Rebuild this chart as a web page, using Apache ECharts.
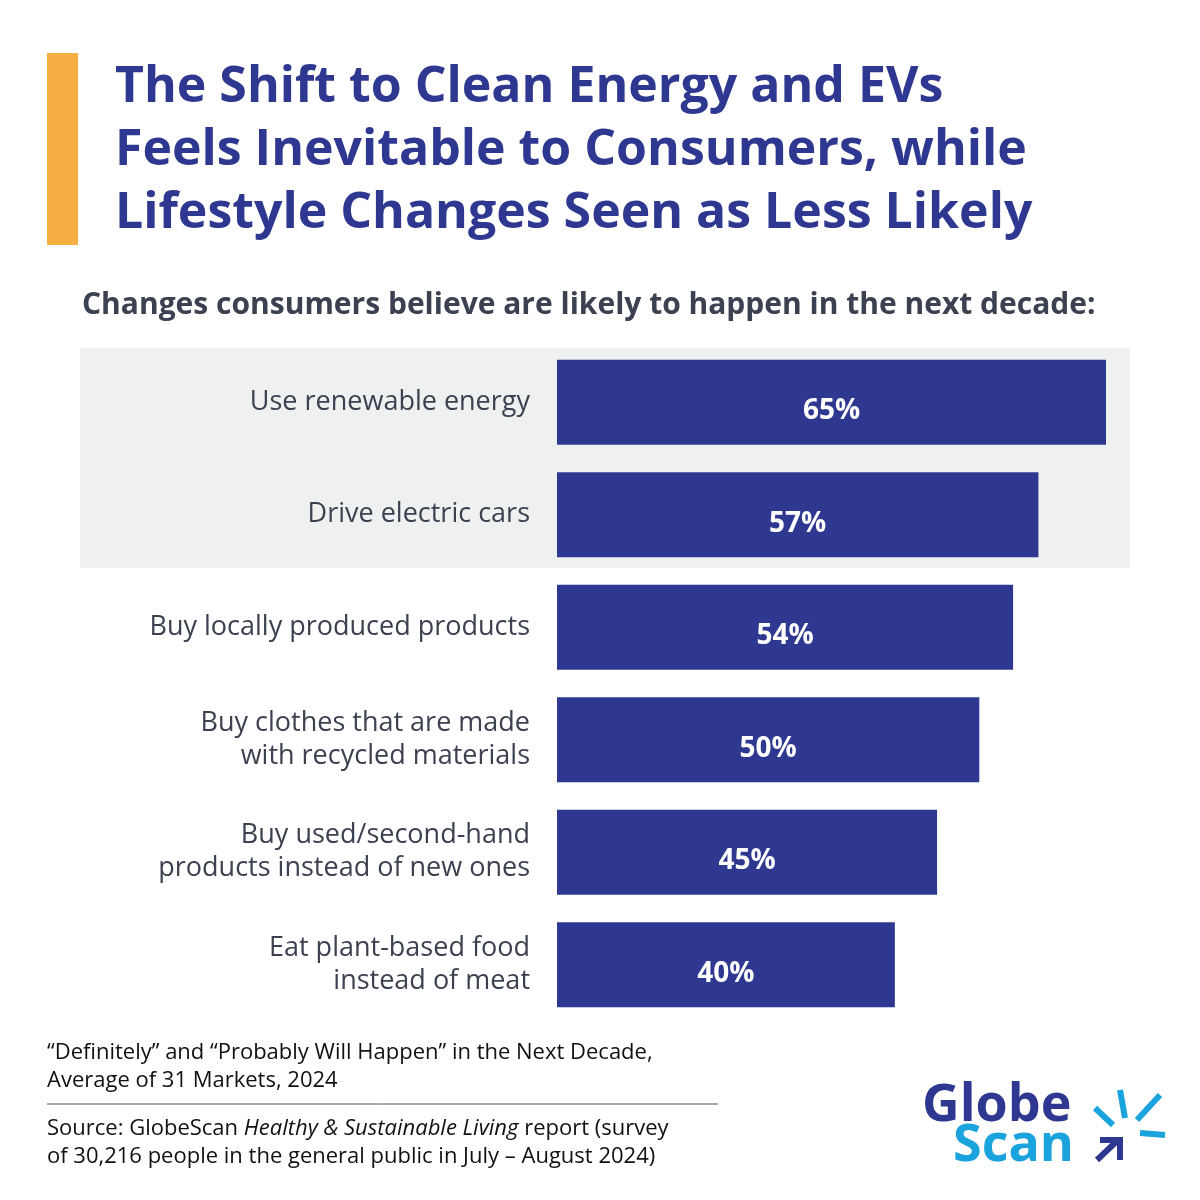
<!DOCTYPE html>
<html><head><meta charset="utf-8">
<script src="https://cdn.jsdelivr.net/npm/echarts@6/dist/echarts.min.js"></script>
<style>html,body{margin:0;background:#fff}#c{width:1200px;height:1200px}</style>
</head><body><div id="c"></div>
<script>
var categories = ['Use renewable energy', 'Drive electric cars', 'Buy locally produced products',
  'Buy clothes that are made\nwith recycled materials', 'Buy used/second-hand\nproducts instead of new ones',
  'Eat plant-based food\ninstead of meat'];
var values = [65, 57, 54, 50, 45, 40];

var navy = '#2e3890';
var font = '"Open Sans", "Noto Sans", sans-serif';
var chart = echarts.init(document.getElementById('c'));

chart.setOption({
  backgroundColor: '#fff',
  grid: { left: 557, top: 346, width: 549, height: 675 },
  xAxis: { type: 'value', min: 0, max: 65, show: false },
  yAxis: {
    type: 'category', data: categories, inverse: true,
    axisLine: { show: false }, axisTick: { show: false },
    axisLabel: { margin: 27, color: '#3b4150', fontSize: 27, lineHeight: 33, fontFamily: font, align: 'right' }
  },
  graphic: [
    { type: 'rect', shape: { x: 80, y: 348, width: 1050, height: 220 }, style: { fill: '#eff1f0' }, z: -10 },
    { type: 'rect', shape: { x: 47, y: 53, width: 31, height: 192 }, style: { fill: '#f5ae42' } },
    { type: 'text', left: 115, top: 56, style: { text: 'The Shift to Clean Energy and EVs\nFeels Inevitable to Consumers, while\nLifestyle Changes Seen as Less Likely',
      fill: navy, font: 'bold 50px ' + font, lineHeight: 63 } },
    { type: 'text', left: 82, top: 290, style: { text: 'Changes consumers believe are likely to happen in the next decade:',
      fill: '#3b4150', font: 'bold 30px ' + font } },
    { type: 'text', left: 47, top: 1039, style: { text: '\u201cDefinitely\u201d and \u201cProbably Will Happen\u201d in the Next Decade,\nAverage of 31 Markets, 2024',
      fill: '#111', font: '22px ' + font, lineHeight: 28 } },
    { type: 'line', shape: { x1: 47, y1: 1104, x2: 718, y2: 1104 }, style: { stroke: '#555', lineWidth: 1 } },
    { type: 'text', left: 47, top: 1115, style: { rich: { i: { font: 'italic 22px ' + font, fill: '#111' } },
      text: 'Source: GlobeScan {i|Healthy & Sustainable Living} report (survey\nof 30,216 people in the general public in July \u2013 August 2024)',
      fill: '#111', font: '22px ' + font, lineHeight: 28 } },
    { type: 'text', left: 922, top: 1080, style: { text: 'Globe', fill: navy, font: 'bold 52px ' + font } },
    { type: 'text', left: 953, top: 1120, style: { text: 'Scan', fill: '#1aa3dd', font: 'bold 52px ' + font } },
    { type: 'line', shape: { x1: 1120, y1: 1090, x2: 1125, y2: 1118 }, style: { stroke: '#1aa3dd', lineWidth: 6 } },
    { type: 'line', shape: { x1: 1160, y1: 1095, x2: 1137, y2: 1120 }, style: { stroke: '#1aa3dd', lineWidth: 6 } },
    { type: 'line', shape: { x1: 1165, y1: 1135, x2: 1140, y2: 1133 }, style: { stroke: '#1aa3dd', lineWidth: 6 } },
    { type: 'line', shape: { x1: 1095, y1: 1108, x2: 1113, y2: 1125 }, style: { stroke: '#1aa3dd', lineWidth: 6 } },
    { type: 'line', shape: { x1: 1118, y1: 1140, x2: 1097, y2: 1160 }, style: { stroke: navy, lineWidth: 6 } },
    { type: 'polyline', shape: { points: [[1100, 1140], [1120, 1140], [1120, 1160]] }, style: { stroke: navy, lineWidth: 6, fill: null } }
  ],
  series: [{
    type: 'bar', data: values, barWidth: 85, itemStyle: { color: navy },
    label: { show: true, position: 'inside', offset: [0, 9], formatter: '{c}%', color: '#fff', fontSize: 28, fontWeight: 'bold', fontFamily: font }
  }]
});
</script></body></html>
